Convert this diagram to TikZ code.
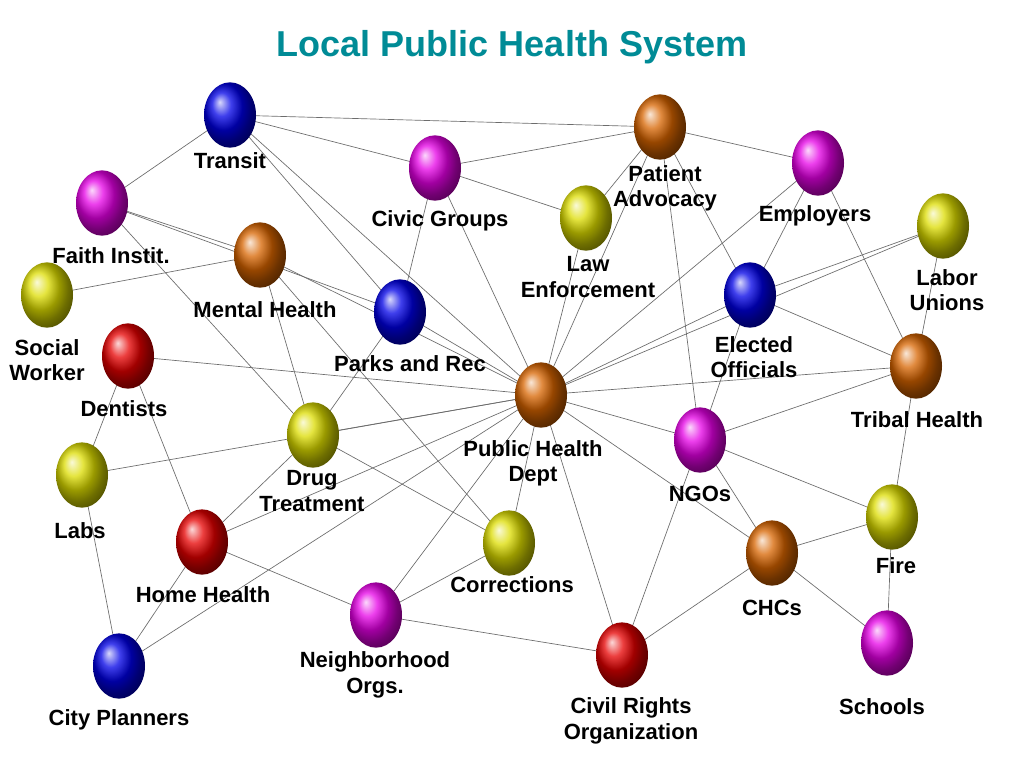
\documentclass[tikz,border=0pt]{standalone}
\usepackage{fontspec}
\setmainfont{Liberation Sans}
\usetikzlibrary{shapes.geometric}
\pgfdeclarelayer{bg}
\pgfsetlayers{bg,main}
\begin{document}
\begin{tikzpicture}[x=0.75pt,y=-0.75pt,
  ball/.style={ellipse,minimum width=39pt,minimum height=49pt,inner sep=0pt,shading=ball,ball color=#1},
  lbl/.style={font=\bfseries\fontsize{16.5}{19}\selectfont,align=center,text=black},
  link/.style={draw=gray!85!black,line width=0.5pt}]
\useasboundingbox (0,0) rectangle (1024,768);
\begin{pgfonlayer}{bg}\fill[white] (0,0) rectangle (1024,768);\end{pgfonlayer}
\node[font=\bfseries\fontsize{27}{30}\selectfont,text={rgb,255:red,0;green,139;blue,150}] (title) at (512,47) {Local Public Health System};
\definecolor{bor}{RGB}{215,100,0}
\definecolor{byel}{RGB}{220,220,0}
\definecolor{bmag}{RGB}{230,0,230}
\definecolor{bblu}{RGB}{0,0,230}
\definecolor{bred}{RGB}{230,0,0}
\node[ball=bblu] (tr) at (230,115) {};
\node[ball=bor] (pa) at (660,127) {};
\node[ball=bmag] (cg) at (435,168) {};
\node[ball=bmag] (em) at (818,163) {};
\node[ball=bmag] (fi) at (102,203) {};
\node[ball=byel] (le) at (586,218) {};
\node[ball=byel] (lu) at (943,226) {};
\node[ball=bor] (mh) at (260,255) {};
\node[ball=byel] (sw) at (47,295) {};
\node[ball=bblu] (pr) at (400,312) {};
\node[ball=bblu] (eo) at (750,295) {};
\node[ball=bred] (de) at (128,356) {};
\node[ball=bor] (ph) at (541,395) {};
\node[ball=bor] (th) at (916,366) {};
\node[ball=byel] (dt) at (313,435) {};
\node[ball=bmag] (ng) at (700,440) {};
\node[ball=byel] (la) at (82,475) {};
\node[ball=byel] (fr) at (892,517) {};
\node[ball=bred] (hh) at (202,542) {};
\node[ball=byel] (co) at (509,543) {};
\node[ball=bor] (ch) at (772,553) {};
\node[ball=bmag] (no) at (376,615) {};
\node[ball=bred] (cr) at (622,655) {};
\node[ball=bmag] (sc) at (887,643) {};
\node[ball=bblu] (cp) at (119,666) {};
\begin{pgfonlayer}{bg}
\foreach \a/\b in {tr/fi,tr/pa,tr/cg,tr/pr,tr/ph,
  fi/mh,fi/pr,fi/dt,mh/sw,mh/ph,mh/dt,mh/co,
  cg/pa,cg/le,cg/pr,cg/ph,pr/dt,pr/ph,
  pa/em,pa/le,pa/ph,pa/ng,pa/eo,le/ph,
  em/ph,em/eo,em/th,lu/eo,lu/ph,lu/th,eo/ph,eo/th,eo/ng,
  th/ph,th/ng,th/fr,de/ph,de/la,de/hh,
  dt/ph,la/ph,dt/hh,dt/co,hh/ph,hh/no,hh/cp,cp/la,cp/ph,
  no/ph,no/co,no/cr,co/ph,cr/ph,cr/ng,cr/ch,
  ng/ph,ng/fr,ng/ch,ph/ch,ch/fr,ch/sc,fr/sc}
  \draw[link] (\a.center) -- (\b.center);
\end{pgfonlayer}
\node[lbl] (ltr) at (230,161) {Transit};
\node[lbl] (lpa) at (665,188) {Patient\\Advocacy};
\node[lbl] (lcg) at (440,221) {Civic Groups};
\node[lbl] (lem) at (815,216) {Employers};
\node[lbl] (lfi) at (111,256) {Faith Instit.};
\node[lbl] (lle) at (588,277) {Law\\Enforcement};
\node[lbl] (llu) at (947,290) {Labor\\Unions};
\node[lbl] (lmh) at (265,310) {Mental Health};
\node[lbl] (lsw) at (47,360) {Social\\Worker};
\node[lbl] (lpr) at (410,364) {Parks and Rec};
\node[lbl] (leo) at (754,357) {Elected\\Officials};
\node[lbl] (lde) at (124,409) {Dentists};
\node[lbl] (lph) at (533,463) {Public Health\\Dept};
\node[lbl] (lth) at (917,420) {Tribal Health};
\node[lbl] (ldt) at (312,491) {Drug\\Treatment};
\node[lbl] (lng) at (700,494) {NGOs};
\node[lbl] (lla) at (80,531) {Labs};
\node[lbl] (lfr) at (896,566) {Fire};
\node[lbl] (lhh) at (203,595) {Home Health};
\node[lbl] (lco) at (512,585) {Corrections};
\node[lbl] (lch) at (772,608) {CHCs};
\node[lbl] (lno) at (375,675) {Neighborhood\\Orgs.};
\node[lbl] (lcr) at (631,721) {Civil Rights\\Organization};
\node[lbl] (lsc) at (882,707) {Schools};
\node[lbl] (lcp) at (119,720) {City Planners};
\end{tikzpicture}
\end{document}
